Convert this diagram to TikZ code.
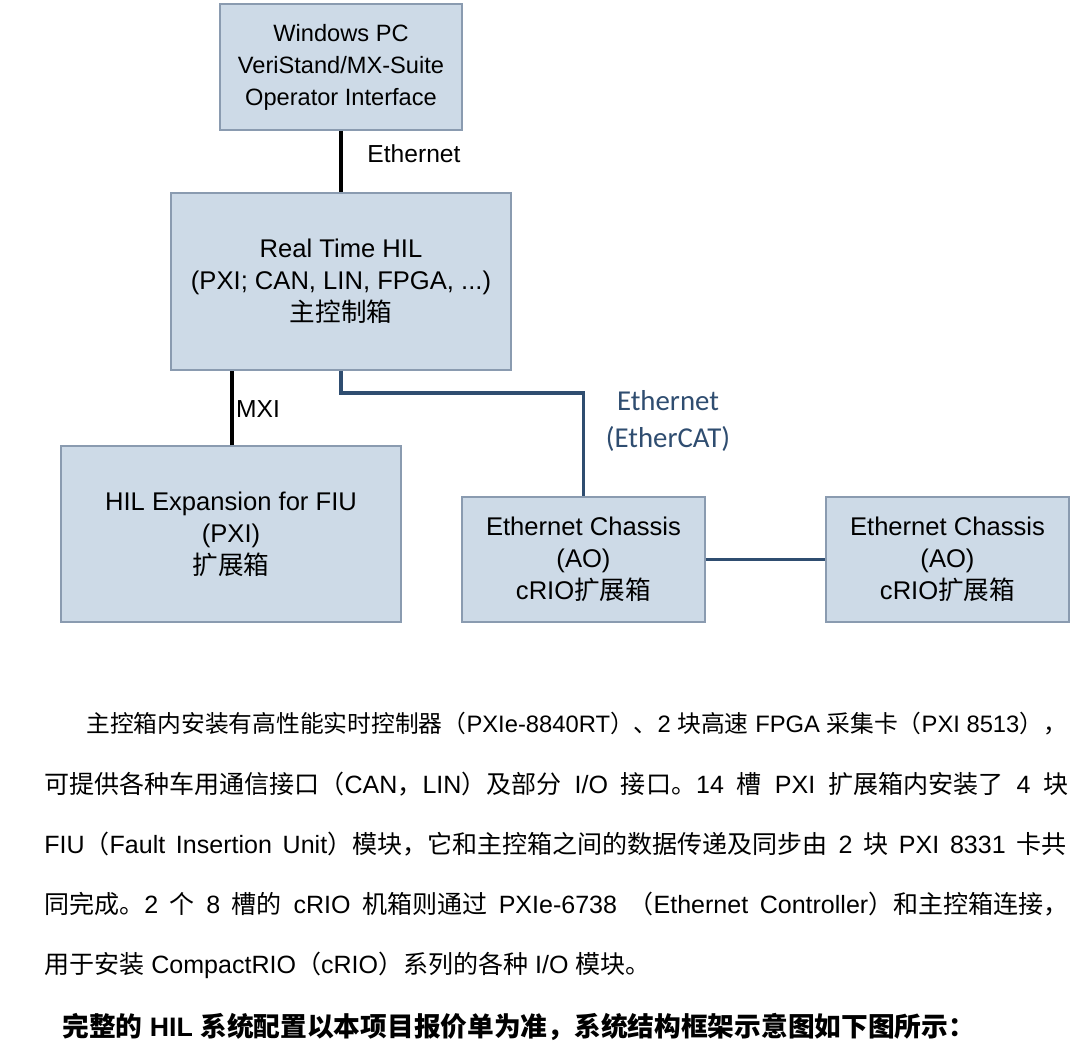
\documentclass[tikz,border=0pt]{standalone}
\usepackage{fontspec}
\setmainfont{Liberation Sans}
\newfontfamily\cjk{Noto Sans CJK SC}
\newfontfamily\calib{Carlito}
\newcommand{\zh}[1]{{\cjk #1}}
\newcommand{\fullline}[2]{\makebox[#1cm][s]{#2}}
\definecolor{boxfill}{HTML}{CDDAE7}
\definecolor{boxline}{HTML}{8A9BB0}
\definecolor{linkblue}{HTML}{2F4D70}
\tikzset{
  unit/.style={draw=boxline, fill=boxfill, line width=0.8pt, align=center,
    font=\fontsize{18.2}{22.8}\selectfont, inner sep=0pt},
  para/.style={anchor=west, inner sep=0pt, font=\fontsize{17.8}{18}\selectfont}
}
\begin{document}
\begin{tikzpicture}[x=0.025cm, y=-0.025cm]
    \useasboundingbox (0,0) rectangle (1080,1043);
    % boxes
    \node[unit, font=\fontsize{16.8}{22.8}\selectfont, minimum width=242*0.025cm, minimum height=126*0.025cm] (pc) at (341,67)
      {Windows PC\\VeriStand/MX-Suite\\Operator Interface};
    \node[unit, minimum width=340*0.025cm, minimum height=177*0.025cm] (rt) at (341,281.5)
      {Real Time HIL\\(PXI; CAN, LIN, FPGA, ...)\\\zh{主控制箱}};
    \node[unit, minimum width=340*0.025cm, minimum height=176*0.025cm] (fiu) at (231,534)
      {HIL Expansion for FIU\\(PXI)\\\zh{扩展箱}};
    \node[unit, minimum width=243*0.025cm, minimum height=125*0.025cm] (cr1) at (583.5,559.5)
      {Ethernet Chassis\\(AO)\\cRIO\zh{扩展箱}};
    \node[unit, minimum width=243*0.025cm, minimum height=125*0.025cm] (cr2) at (947.5,559.5)
      {Ethernet Chassis\\(AO)\\cRIO\zh{扩展箱}};
    % links
    \draw[line width=2.2pt] (pc) -- (rt);
    \draw[line width=2.2pt] (fiu.north -| 232,0) -- (rt.south -| 232,0);
    \coordinate (bend) at (341,393);
    \draw[linkblue, line width=2.6pt] (rt.south) -- (bend) -| (cr1.north);
    \draw[linkblue, line width=2.6pt] (cr1) -- (cr2);
    \node[font=\fontsize{17.5}{18}\selectfont] (ethlbl) at (414,154) {Ethernet};
    \node[font=\fontsize{17.5}{18}\selectfont] (mxilbl) at (258,409) {MXI};
    \node[font=\calib\fontsize{20.5}{26}\selectfont, text=linkblue, align=center] (ecat) at (668,421)
      {Ethernet\\(EtherCAT)};
    % description
    \node[para, font=\fontsize{16.9}{18}\selectfont] (l1) at (86,724) {\zh{主控箱内安装有高性能实时控制器（}PXIe-8840RT\zh{）、}2 \zh{块高速} FPGA \zh{采集卡（}PXI 8513\zh{），}};
    \node[para] (l2) at (44,784) {\fullline{25.6}{\zh{可提供各种车用通信接口（}CAN\zh{，}LIN\zh{）及部分} I/O \zh{接口。}14 \zh{槽} PXI \zh{扩展箱内安装了} 4 \zh{块}}};
    \node[para] (l3) at (44,844) {\fullline{25.55}{FIU\zh{（}Fault Insertion Unit\zh{）模块，它和主控箱之间的数据传递及同步由} 2 \zh{块} PXI 8331 \zh{卡共}}};
    \node[para] (l4) at (44,904) {\fullline{25.6}{\zh{同完成。}2 \zh{个} 8 \zh{槽的} cRIO \zh{机箱则通过} PXIe-6738 \zh{（}Ethernet Controller\zh{）和主控箱连接，}}};
    \node[para] (l5) at (44,965) {\zh{用于安装} CompactRIO\zh{（}cRIO\zh{）系列的各种} I/O \zh{模块。}};
    \node[para, font=\bfseries\fontsize{19}{20}\selectfont] (l6) at (62,1027) {\zh{\bfseries 完整的} HIL \zh{\bfseries 系统配置以本项目报价单为准，系统结构框架示意图如下图所示：}};
\end{tikzpicture}
\end{document}
